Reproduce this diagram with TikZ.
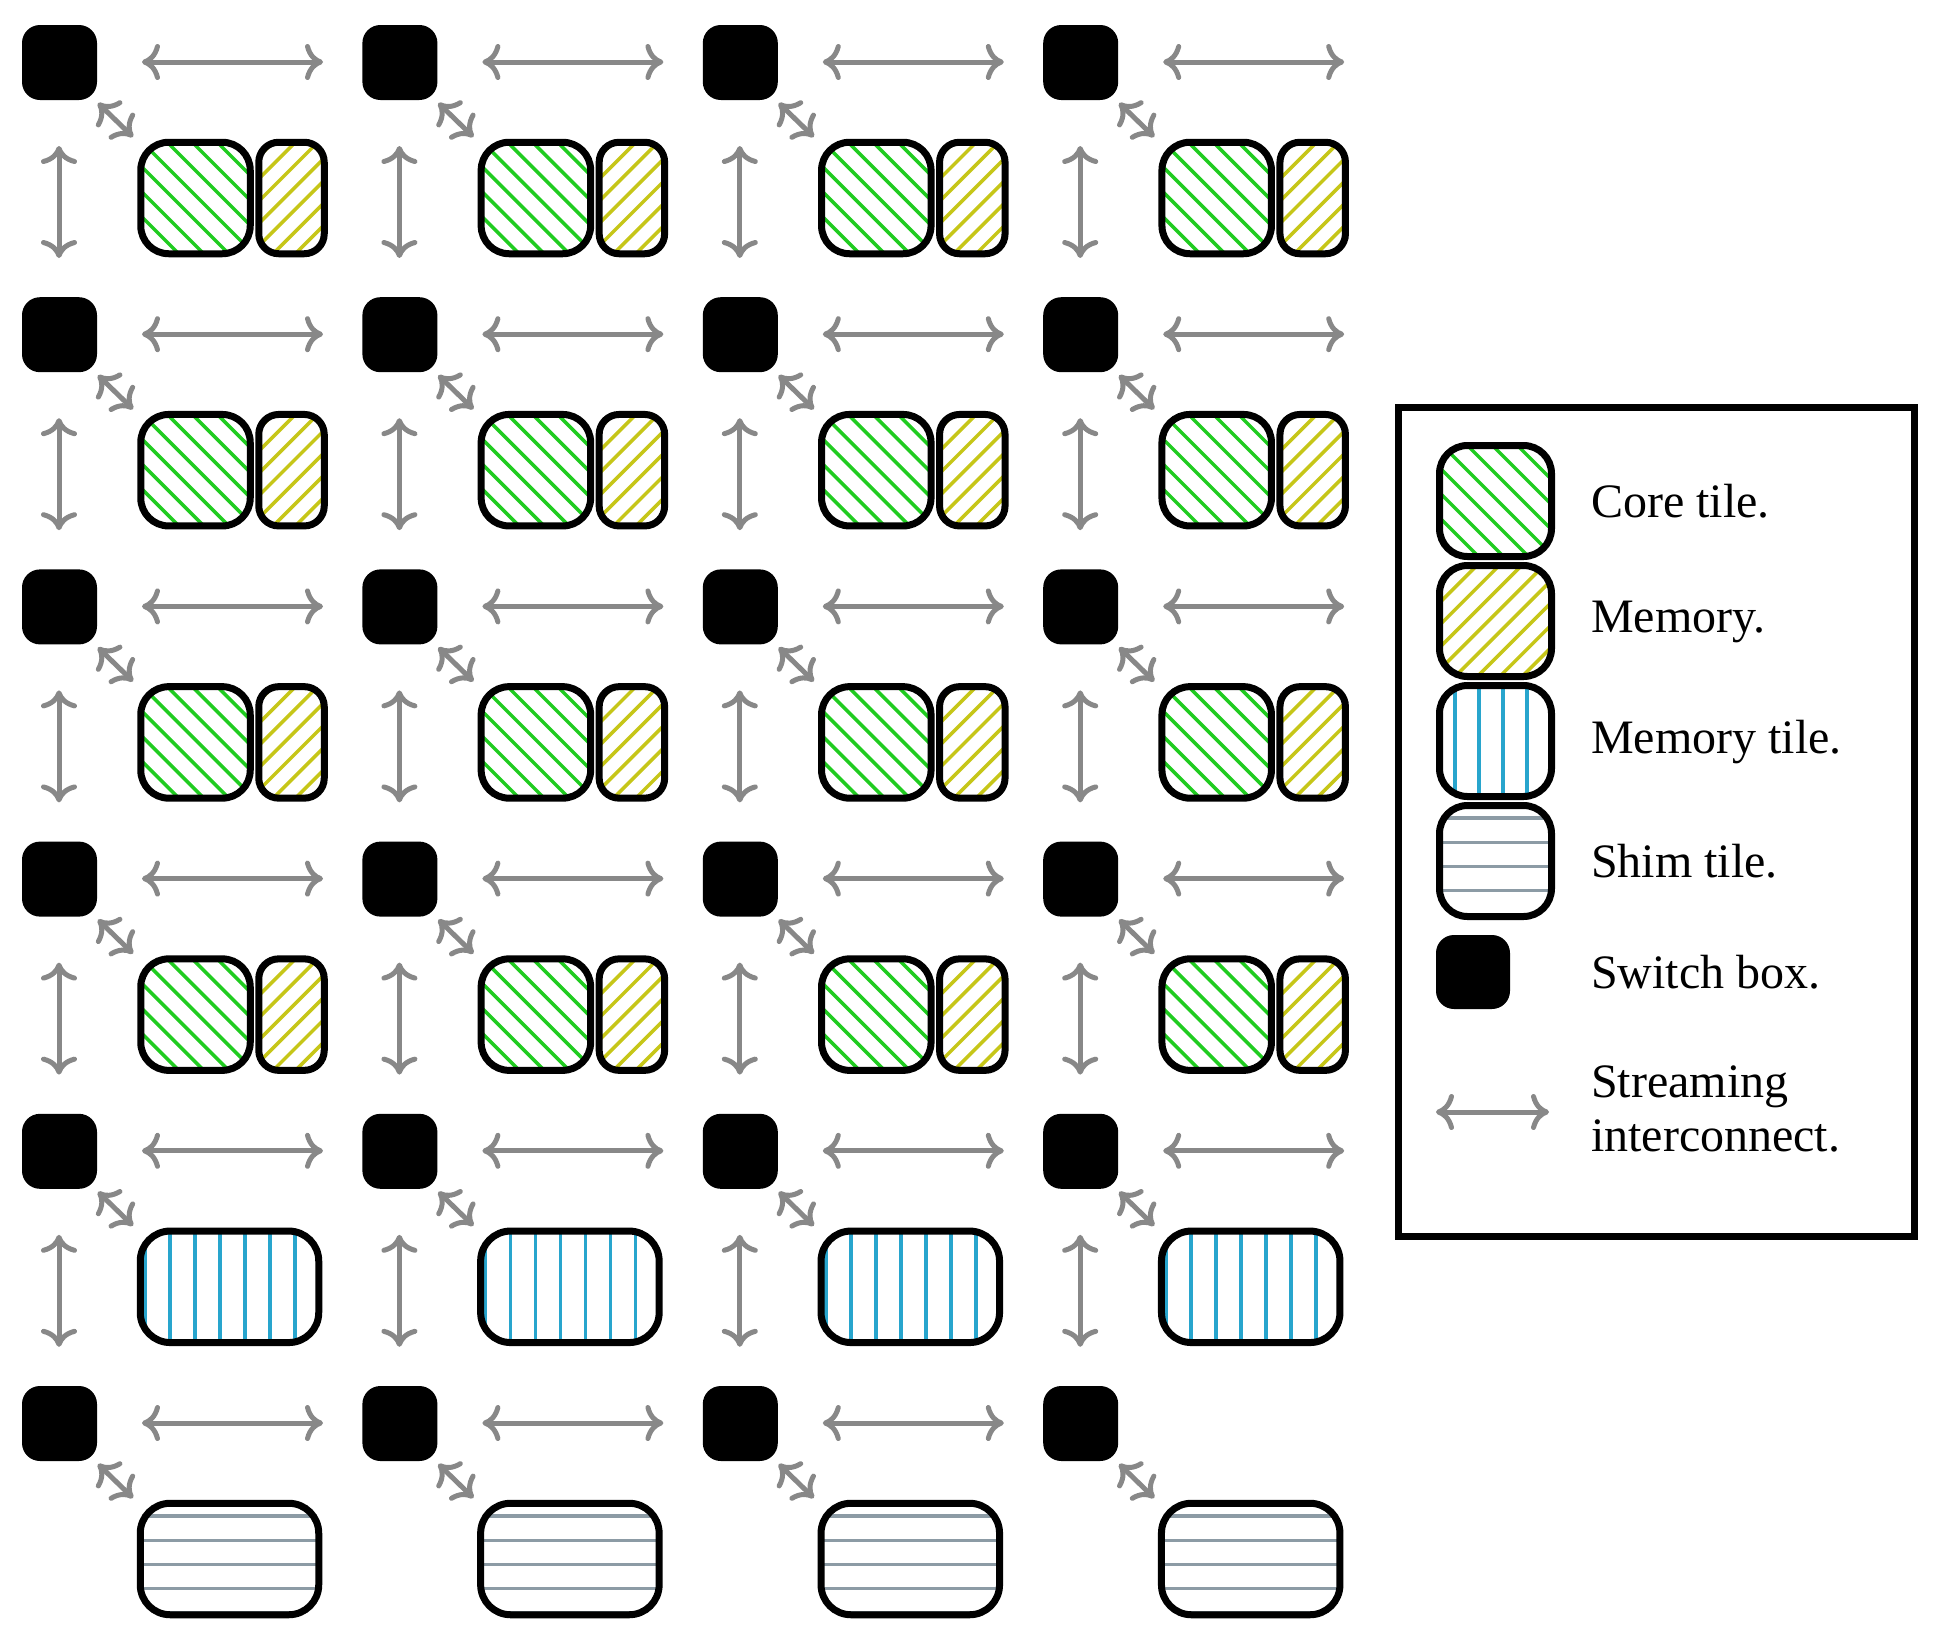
\documentclass[tikz,border=0pt]{standalone}
\usepackage{fontspec}
\setmainfont{Liberation Serif}
\usetikzlibrary{arrows.meta}
\definecolor{coregreen}{RGB}{32,204,32}
\definecolor{memyellow}{RGB}{198,198,24}
\definecolor{mtblue}{RGB}{40,165,205}
\definecolor{shimgray}{RGB}{140,155,165}
\definecolor{arrgray}{RGB}{136,136,136}
\tikzset{
  tilebase/.style={draw=black, line width=7pt, rectangle, inner sep=0pt, outer sep=0pt},
  stripe/.style={line width=3.5pt},
  corestripes/.style={path picture={
    \foreach \k in {-7,...,7}{
      \draw[stripe, coregreen] ([shift={(\k*25+2.5-150,-150)}]path picture bounding box.center) -- ++(300,300);
    }}},
  memstripes/.style={path picture={
    \foreach \k in {-8,...,8}{
      \draw[stripe, memyellow] ([shift={(\k*22.3+15.1-150,150)}]path picture bounding box.center) -- ++(300,-300);
    }}},
  vstripes/.style 2 args={path picture={
    \foreach \k in {-5,...,5}{
      \draw[stripe, mtblue] ([shift={(\k*#1+#2,-100)}]path picture bounding box.center) -- ++(0,200);
    }}},
  hstripes/.style={path picture={
    \foreach \k in {-4,...,4}{
      \draw[stripe, shimgray] ([shift={(-150,\k*24.2+5.5)}]path picture bounding box.center) -- ++(300,0);
    }}},
  coretile/.style={tilebase, minimum width=109.5pt, minimum height=111.5pt, rounded corners=28pt, corestripes},
  memblock/.style={tilebase, minimum width=65.5pt, minimum height=111.5pt, rounded corners=20pt, memstripes},
  memorytile/.style={tilebase, minimum width=178.5pt, minimum height=111.5pt, rounded corners=30pt},
  shimtile/.style={tilebase, minimum width=178.5pt, minimum height=111.5pt, rounded corners=30pt, hstripes},
  switchbox/.style={fill=black, rectangle, minimum size=75pt, rounded corners=18pt, inner sep=0pt, outer sep=0pt},
  sarrow/.style={draw=arrgray, line width=5pt, line cap=round,
    >={Computer Modern Rightarrow[length=18pt,width=36pt]}, <->},
  legicon/.style={minimum width=112pt, minimum height=111pt, rounded corners=28pt},
  legtext/.style={font=\fontsize{48pt}{54pt}\selectfont, inner sep=0pt, outer sep=0pt},
}
\begin{document}
\begin{tikzpicture}[x=1pt,y=-1pt]
\useasboundingbox[fill=white] (0,0) rectangle (1944,1644);
\foreach \c in {0,...,3} {
  \foreach \r in {0,...,5} {
    \pgfmathsetmacro\X{22+340.4*\c}
    \pgfmathsetmacro\Y{25+272.2*\r}
    \node[switchbox] (sb-\c-\r) at (\X+37.5,\Y+37.5) {};
    % diagonal link
    \coordinate (da-\c-\r) at (\X+76,\Y+78);
    \coordinate (db-\c-\r) at (\X+111,\Y+112);
    \draw[sarrow] (da-\c-\r) -- (db-\c-\r);
    % horizontal and vertical links
    \ifnum\r<5
      \coordinate (ha-\c-\r) at (\X+120,\Y+37);
      \coordinate (hb-\c-\r) at (\X+301,\Y+37);
      \draw[sarrow] (ha-\c-\r) -- (hb-\c-\r);
      \coordinate (va-\c-\r) at (\X+37,\Y+121);
      \coordinate (vb-\c-\r) at (\X+37,\Y+233);
      \draw[sarrow] (va-\c-\r) -- (vb-\c-\r);
    \else
      \ifnum\c<3
        \coordinate (ha-\c-\r) at (\X+120,\Y+37);
        \coordinate (hb-\c-\r) at (\X+301,\Y+37);
        \draw[sarrow] (ha-\c-\r) -- (hb-\c-\r);
      \fi
    \fi
    % tiles
    \ifnum\r<4
      \node[coretile] (core-\c-\r) at (\X+173.5,\Y+173) {};
      \node[memblock] (mem-\c-\r) at (\X+269.5,\Y+173) {};
    \else
      \ifnum\r=4
        \node[memorytile, vstripes={25}{15.5}] (mt-\c) at (\X+207.5,\Y+173) {};
      \else
        \node[shimtile] (shim-\c) at (\X+207.5,\Y+173) {};
      \fi
    \fi
  }
}
% legend
\node[draw=black, line width=7pt, rectangle, minimum width=516pt, minimum height=829pt, inner sep=0pt] (legend) at (1656.5,822) {};
\node[coretile, legicon] (lg-core) at (1495.5,501) {};
\node[memblock, legicon] (lg-mem) at (1495.5,621) {};
\node[memorytile, legicon, vstripes={24}{7.5}] (lg-mt) at (1495.5,741) {};
\node[shimtile, legicon] (lg-shim) at (1495.5,861) {};
\node[switchbox, minimum size=74pt] (lg-sb) at (1473,972) {};
\coordinate (lg-aa) at (1436,1112);
\coordinate (lg-ab) at (1549,1112);
\draw[sarrow] (lg-aa) -- (lg-ab);
\node[legtext, anchor=base west] (t-core) at (1591,517) {Core tile.};
\node[legtext, anchor=base west] (t-mem) at (1591,632) {Memory.};
\node[legtext, anchor=base west] (t-mt) at (1591,753) {Memory tile.};
\node[legtext, anchor=base west] (t-shim) at (1591,877) {Shim tile.};
\node[legtext, anchor=base west] (t-sb) at (1591,988) {Switch box.};
\node[legtext, anchor=west, align=left] (t-arr) at (1591,1109) {Streaming\\interconnect.};
\end{tikzpicture}
\end{document}
